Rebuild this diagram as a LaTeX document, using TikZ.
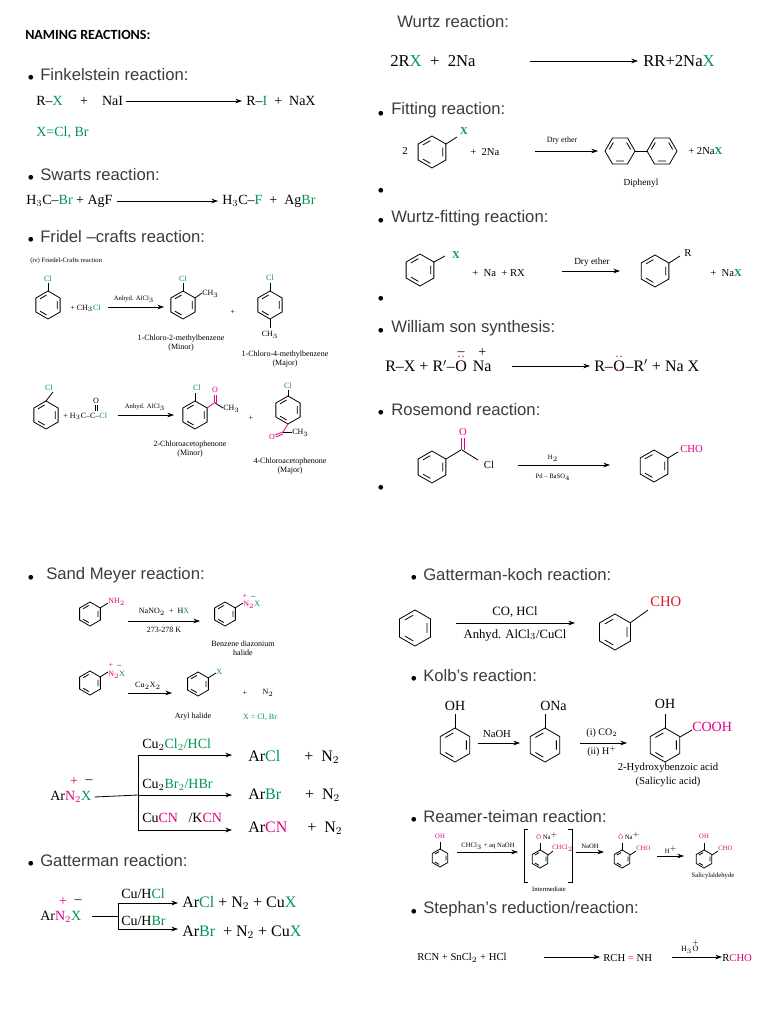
\documentclass[tikz,border=0pt]{standalone}
\usepackage{amsmath}
\usepackage{fontspec}
\setmainfont{Liberation Serif}
\setsansfont{Liberation Sans}
\newfontfamily\calib{Carlito}
\usetikzlibrary{arrows.meta}
\definecolor{gr}{RGB}{0,150,80}
\definecolor{pk}{RGB}{225,0,130}
\definecolor{rd}{RGB}{225,20,40}
\definecolor{hg}{RGB}{60,60,60}
\newcommand\GR[1]{\textcolor{gr}{#1}}
\newcommand\PK[1]{\textcolor{pk}{#1}}
\newcommand\bz[3]{\pic at (#1,#2) [scale=#3] {benz};}
\newcommand\bzr[3]{\pic at (#1,#2) [scale=#3,rotate=30] {benz};}
\begin{document}
\begin{tikzpicture}[x=0.75pt,y=-0.75pt,
 benz/.pic={\draw[line width=0.6pt] (90:1)--(150:1)--(210:1)--(270:1)--(330:1)--(30:1)--cycle;
   \draw[line width=0.6pt] (98:.72)--(142:.72) (218:.72)--(262:.72) (338:.72)--(22:.72);},
 hd/.style={anchor=west,font=\sffamily\fontsize{12.5}{14}\selectfont,text=hg,inner sep=0},
 bul/.style={font=\sffamily\fontsize{13}{14}\selectfont,inner sep=0},
 ch/.style={font=\fontsize{10.5}{12}\selectfont,inner sep=0},
 cb/.style={font=\fontsize{12}{13}\selectfont,inner sep=0},
 sm/.style={font=\fontsize{6}{7}\selectfont,inner sep=0,align=center},
 xs/.style={font=\fontsize{5}{6}\selectfont,inner sep=0,align=center},
 ar/.style={-{Stealth[length=5pt,width=3.5pt]},line width=0.6pt},
 bd/.style={line width=0.6pt}]
\useasboundingbox (0,0) rectangle (768,1024);
\fill[white] (0,0) rectangle (768,1024);
% ---------------- LEFT COLUMN
\node[anchor=west,inner sep=0,font=\calib\bfseries\fontsize{10.5}{12}\selectfont] (title) at (25,35) {NAMING REACTIONS:};
% Finkelstein
\node[bul] (b1) at (31,79) {•};
\node[hd] (h1) at (40,75) {Finkelstein reaction:};
\node[ch,anchor=west] (f1) at (36,101) {R--\GR{X}\quad\ +\quad NaI};
\node[ch,anchor=west] (f2) at (246,101) {R--\GR{I}\ \ +\ \ NaX};
\draw[ar] (f1.east)++(3,0) coordinate (fa) -- (242,101);
\node[ch,anchor=west] (f3) at (36,133) {\GR{X=Cl, Br}};
% Swarts
\node[bul] (b2) at (31,179) {•};
\node[hd] (h2) at (40,175) {Swarts reaction:};
\node[ch,anchor=west] (s1) at (26,201) {H$_3$C--\GR{Br} + AgF};
\draw[ar] (s1.east) ++(4,0) -- (218,201);
\node[ch,anchor=west] (s2) at (222,201) {H$_3$C--\GR{F}\ \ +\ \ Ag\GR{Br}};
% Friedel
\node[bul] (b3) at (31,241) {•};
\node[hd] (h3) at (40,237) {Fridel --crafts reaction:};
\node[xs,anchor=west] (fc) at (30,261) {(iv) Friedel-Crafts reaction};
% row1
\bz{48}{305}{14}
\draw[bd] (48,291)--(48,283); \node[sm] at (48,279) {\GR{Cl}};
\node[sm,anchor=west] at (70,308) {+ CH$_3$\GR{Cl}};
\draw[ar] (108,307)--(164,307); \node[xs] at (134,299) {Anhyd. AlCl$_3$};
\bz{183}{305}{14}
\draw[bd] (183,291)--(183,283); \node[sm] at (183,279) {\GR{Cl}};
\draw[bd] (195,298)--(202,293); \node[sm,anchor=west] at (202,294) {CH$_3$};
\node[sm] at (233,312) {+};
\bz{270}{305}{14}
\draw[bd] (270,291)--(270,283); \node[sm] at (270,278) {\GR{Cl}};
\draw[bd] (270,319)--(270,328); \node[sm] at (270,335) {CH$_3$};
\node[sm] at (181,343) {1-Chloro-2-methylbenzene\\(Minor)};
\node[sm] at (285,359) {1-Chloro-4-methylbenzene\\(Major)};
% row2
\bz{46}{415}{14}
\draw[bd] (46,401)--(53,392); \node[sm] at (49,388) {\GR{Cl}};
\node[sm,anchor=west] at (63,416) {+ H$_3$C--C--\GR{Cl}};
\node[sm] at (96,401) {O}; \draw[bd] (95,405)--(95,411) (97,405)--(97,411);
\draw[ar] (118,415)--(174,415); \node[xs] at (145,407) {Anhyd. AlCl$_3$};
\bz{195}{415}{14}
\draw[bd] (195,401)--(195,393); \node[sm] at (197,388) {\GR{Cl}};
\draw[bd,pk] (207,408)--(214,403); \draw[bd,pk] (214,403)--(214,395) (216,403)--(216,395);
\node[sm] at (215,390) {\PK{O}};
\draw[bd] (215,403)--(223,408); \node[sm,anchor=west] at (223,409) {CH$_3$};
\node[sm] at (251,418) {+};
\bz{288}{410}{14}
\draw[bd] (288,396)--(288,390); \node[sm] at (288,386) {\GR{Cl}};
\draw[bd,pk] (288,424)--(283,432); \draw[bd,pk] (283,432)--(275,435);\draw[bd,pk] (283,434)--(276,437);
\node[sm] at (272,437) {\PK{O}};
\draw[bd] (283,432)--(292,432); \node[sm,anchor=west] at (292,433) {CH$_3$};
\node[sm] at (190,449) {2-Chloroacetophenone\\(Minor)};
\node[sm] at (290,466) {4-Chloroacetophenone\\(Major)};
% Sandmeyer
\node[bul] (b4) at (31,579) {•};
\node[hd] (h4) at (46,575) {Sand Meyer reaction:};
\bz{90}{614}{12}
\draw[bd] (100,608)--(108,603); \node[sm,anchor=west] at (108,602) {\PK{NH$_2$}};
\draw[ar] (128,621)--(200,621);
\node[sm] at (164,612) {NaNO$_2$\ \ +\ \ H\GR{X}}; \node[sm] at (164,630) {273-278 K};
\bz{225}{614}{12}
\draw[bd] (235,608)--(243,603); \node[sm,anchor=west] at (243,605) {\PK{N$_2$}\GR{X}};
\node[sm] at (249,596) {\PK{+}\ \ --};
\node[sm] at (243,648) {Benzene diazonium\\halide};
\bz{90}{683}{12}
\draw[bd] (100,677)--(108,672); \node[sm,anchor=west] at (108,675) {\PK{N$_2$}\GR{X}};
\node[sm] at (115,665) {\PK{+}\ \ --};
\draw[ar] (128,693)--(172,693); \node[sm] at (148,686) {Cu$_2$X$_2$};
\bz{198}{684}{12}
\draw[bd] (208,678)--(216,673); \node[sm,anchor=west] at (216,672) {\GR{X}};
\node[sm] at (245,693) {+}; \node[sm] at (268,693) {N$_2$};
\node[sm] at (193,717) {Aryl halide}; \node[sm] at (260,717) {\GR{X = Cl, Br}};
% ArN2X branching
\node[ch,anchor=west] (ar1) at (50,797) {Ar\PK{N$_2$}\GR{X}};
\node[ch] at (74,782) {\PK{+}}; \node[ch] at (89,782) {--};
\coordinate (j1) at (138,795);
\draw[bd] (ar1.east)++(3,0) -- (j1);
\draw[bd] (138,755)--(138,830);
\draw[ar] (138,755)--(232,755);
\draw[ar] (138,795)--(232,795);
\draw[ar] (138,830)--(232,830);
\node[ch,anchor=west] at (142,745) {Cu$_2$\GR{Cl$_2$/HCl}};
\node[ch,anchor=west] at (142,785) {Cu$_2$\GR{Br$_2$/H}\GR{Br}};
\node[ch,anchor=west] at (142,818) {Cu\PK{CN}\ \ \ /K\PK{CN}};
\node[cb,anchor=west] at (248,757) {Ar\GR{Cl}\quad\ \ +\ \ N$_2$};
\node[cb,anchor=west] at (248,795) {Ar\GR{Br}\quad\ \ +\ \ N$_2$};
\node[cb,anchor=west] at (248,828) {Ar\PK{CN}\quad\ +\ \ N$_2$};
% Gatterman
\node[bul] (b5) at (31,865) {•};
\node[hd] (h5) at (40,861) {Gatterman reaction:};
\node[ch,anchor=west] (ar2) at (40,917) {Ar\PK{N$_2$}\GR{X}};
\node[ch] at (63,902) {\PK{+}}; \node[ch] at (78,902) {--};
\draw[bd] (92,916)--(118,916); \draw[bd] (118,903)--(118,929);
\draw[ar] (118,903)--(178,903); \draw[ar] (118,929)--(178,929);
\node[ch,anchor=west] at (121,894) {Cu/H\GR{Cl}};
\node[ch,anchor=west] at (121,921) {Cu/H\GR{Br}};
\node[cb,anchor=west] at (182,903) {Ar\GR{Cl} + N$_2$ + Cu\GR{X}};
\node[cb,anchor=west] at (182,932) {Ar\GR{Br}\ \ + N$_2$ + Cu\GR{X}};
% ---------------- RIGHT COLUMN
\node[hd] (h6) at (397,22) {Wurtz reaction:};
\node[cb,anchor=west,font=\fontsize{12.5}{14}\selectfont] at (390,61) {2R\GR{X}\ \ +\ \ 2Na};
\draw[ar] (530,61)--(638,61);
\node[cb,anchor=west,font=\fontsize{12.5}{14}\selectfont] at (643,61) {RR+2Na\GR{X}};
% Fitting
\node[bul] (b7) at (381,115) {•};
\node[hd] (h7) at (391,110) {Fitting reaction:};
\node[sm,font=\fontsize{8}{9}\selectfont] at (405,151) {2};
\bz{432}{152}{16}
\draw[bd] (446,144)--(457,137); \node[sm,font=\fontsize{8}{9}\selectfont] at (464,131) {\GR{\textbf{X}}};
\node[sm,font=\fontsize{8}{9}\selectfont,anchor=west] at (470,152) {+\ \ 2Na};
\draw[ar] (535,151)--(598,151); \node[sm] at (562,141) {Dry ether};
\bzr{620}{151}{15}\bzr{662}{151}{15}
\draw[bd] (635,151)--(647,151);
\node[sm,font=\fontsize{7}{8}\selectfont] at (641,183) {Diphenyl};
\node[sm,font=\fontsize{8}{9}\selectfont,anchor=west] at (688,151) {+ 2Na\GR{\textbf{X}}};
\node[bul] at (381,192) {•};
% Wurtz-fitting
\node[bul] (b8) at (381,222) {•};
\node[hd] (h8) at (391,218) {Wurtz-fitting reaction:};
\bz{420}{270}{16}
\draw[bd] (434,262)--(445,256); \node[sm,font=\fontsize{8}{9}\selectfont] at (456,255) {\GR{\textbf{X}}};
\node[sm,font=\fontsize{8}{9}\selectfont,anchor=west] at (472,273) {+\ \ Na\ \ + RX};
\draw[ar] (562,271)--(620,271); \node[sm,font=\fontsize{7}{8}\selectfont] at (592,262) {Dry ether};
\bz{655}{271}{16}
\draw[bd] (669,263)--(680,256); \node[sm,font=\fontsize{8}{9}\selectfont] at (688,253) {R};
\node[sm,font=\fontsize{8}{9}\selectfont,anchor=west] at (710,273) {+\ \ Na\GR{\textbf{X}}};
\node[bul] at (381,300) {•};
% Williamson
\node[bul] (b9) at (381,332) {•};
\node[hd] (h9) at (391,328) {William son synthesis:};
\node[cb,anchor=west] (w1) at (385,366) {R--X + R$'$--};
\node[cb,anchor=west] (o1) at (w1.east) {O};
\node[ch,anchor=south] (d1) at (o1.north) {\PK{$\cdot\cdot$}};
\node[ch,anchor=south,yshift=-2pt] (m1) at (d1.north) {--};
\node[cb,anchor=west,xshift=4pt] (na1) at (o1.east) {Na};
\node[ch,anchor=south,yshift=3pt] (p1) at (na1.north) {+};
\draw[ar] (512,366)--(590,366);
\node[cb,anchor=west] (w2) at (594,366) {R--};
\node[cb,anchor=west] (o2) at (w2.east) {O};
\node[ch,anchor=south] at (o2.north) {\PK{$\cdot\cdot$}};
\node[ch,anchor=north,yshift=4pt] at (o2.south) {\PK{$\cdot\cdot$}};
\node[cb,anchor=west] (w3) at (o2.east) {--R$'$ + Na X};
% Rosemond
\node[bul] (b10) at (381,414) {•};
\node[hd] (h10) at (391,410) {Rosemond reaction:};
\bz{432}{467}{16}
\draw[bd] (446,459)--(461,450);
\draw[bd,pk] (461,450)--(461,438) (464,450)--(464,438);
\node[sm,font=\fontsize{8}{9}\selectfont] at (463,432) {\PK{O}};
\draw[bd] (462,450)--(478,460); \node[sm,font=\fontsize{8}{9}\selectfont] at (489,465) {Cl};
\draw[ar] (518,465)--(610,465);
\node[xs] at (553,458) {H$_2$}; \node[xs] at (553,477) {Pd -- BaSO$_4$};
\bz{654}{466}{16}
\draw[bd] (668,458)--(678,452); \node[sm,font=\fontsize{8}{9}\selectfont,anchor=west] at (680,449) {\PK{CHO}};
\node[bul] at (381,489) {•};
% Gatterman-Koch
\node[bul] (b11) at (414,579) {•};
\node[hd] (h11) at (423,575) {Gatterman-koch reaction:};
\bz{415}{628}{18}
\draw[ar] (456,623)--(575,623);
\node[ch,font=\fontsize{9.5}{11}\selectfont] at (515,612) {CO, HCl};
\node[ch,font=\fontsize{9.5}{11}\selectfont] at (515,635) {Anhyd. AlCl$_3$/CuCl};
\bz{615}{632}{18}
\draw[bd] (630,623)--(648,610);
\node[ch,anchor=west,font=\fontsize{11}{12}\selectfont] at (650,602) {\textcolor{rd}{CHO}};
% Kolbe
\node[bul] (b12) at (414,680) {•};
\node[hd] (h12) at (423,676) {Kolb's reaction:};
\bz{455}{745}{17}
\draw[bd] (455,728)--(455,714); \node[ch] at (455,706) {OH};
\draw[ar] (478,743)--(520,743); \node[sm,font=\fontsize{8}{9}\selectfont] at (497,734) {NaOH};
\bz{545}{745}{17}
\draw[bd] (545,728)--(545,714); \node[ch,anchor=west] at (540,706) {ONa};
\draw[ar] (580,743)--(627,743);
\node[sm,font=\fontsize{7.5}{9}\selectfont] at (602,733) {(i) CO$_2$};
\node[sm,font=\fontsize{7.5}{9}\selectfont] at (602,751) {(ii) H$^+$};
\bz{665}{745}{17}
\draw[bd] (665,728)--(665,714); \node[ch] at (665,704) {OH};
\draw[bd] (680,737)--(692,730); \node[ch,anchor=west] at (692,727) {\PK{COOH}};
\node[sm,font=\fontsize{8}{10}\selectfont] at (668,775) {2-Hydroxybenzoic acid\\(Salicylic acid)};
% Reimer-Tiemann
\node[bul] (b13) at (414,821) {•};
\node[hd] (h13) at (423,817) {Reamer-teiman reaction:};
\bz{440}{858}{9}
\draw[bd] (440,849)--(440,842); \node[xs] at (440,836) {\PK{OH}};
\draw[ar] (457,852)--(518,852); \node[xs] at (488,846) {CHCl$_3$ + aq NaOH};
\draw[bd] (528,829)--(524,829)--(524,882)--(528,882);
\draw[bd] (568,829)--(572,829)--(572,882)--(568,882);
\bz{540}{859}{9}
\draw[bd] (540,850)--(540,843); \node[xs,anchor=west] at (536,836) {\PK{Ō} Na$^+$};
\draw[bd] (548,855)--(553,851); \node[xs,anchor=west] at (552,848) {\PK{CHCl$_2$}};
\node[xs] at (549,889) {Intermediate};
\draw[ar] (576,852)--(604,852); \node[xs] at (590,846) {NaOH};
\bz{622}{859}{9}
\draw[bd] (622,850)--(622,843); \node[xs,anchor=west] at (618,836) {\PK{Ō} Na$^+$};
\draw[bd] (630,855)--(636,851); \node[xs,anchor=west] at (636,848) {\PK{CHO}};
\draw[ar] (657,856)--(684,856); \node[xs] at (671,850) {H$^+$};
\bz{704}{859}{9}
\draw[bd] (704,850)--(704,843); \node[xs] at (704,836) {\PK{OH}};
\draw[bd] (712,855)--(718,851); \node[xs,anchor=west] at (718,848) {\PK{CHO}};
\node[xs] at (713,876) {Salicylaldehyde};
% Stephen
\node[bul] (b14) at (414,913) {•};
\node[hd] (h14) at (423,909) {Stephan's reduction/reaction:};
\node[sm,font=\fontsize{8}{9}\selectfont,anchor=west] at (417,958) {RCN + SnCl$_2$ + HCl};
\draw[ar] (544,957)--(600,957);
\node[sm,font=\fontsize{8}{9}\selectfont,anchor=west] at (603,958) {RCH \PK{=} NH};
\draw[ar] (672,957)--(722,957); \node[xs,font=\fontsize{6}{7}\selectfont] at (690,946) {H$_3\overset{+}{\text{O}}$};
\node[sm,font=\fontsize{8}{9}\selectfont,anchor=west] at (722,958) {R\PK{CHO}};
\end{tikzpicture}
\end{document}
